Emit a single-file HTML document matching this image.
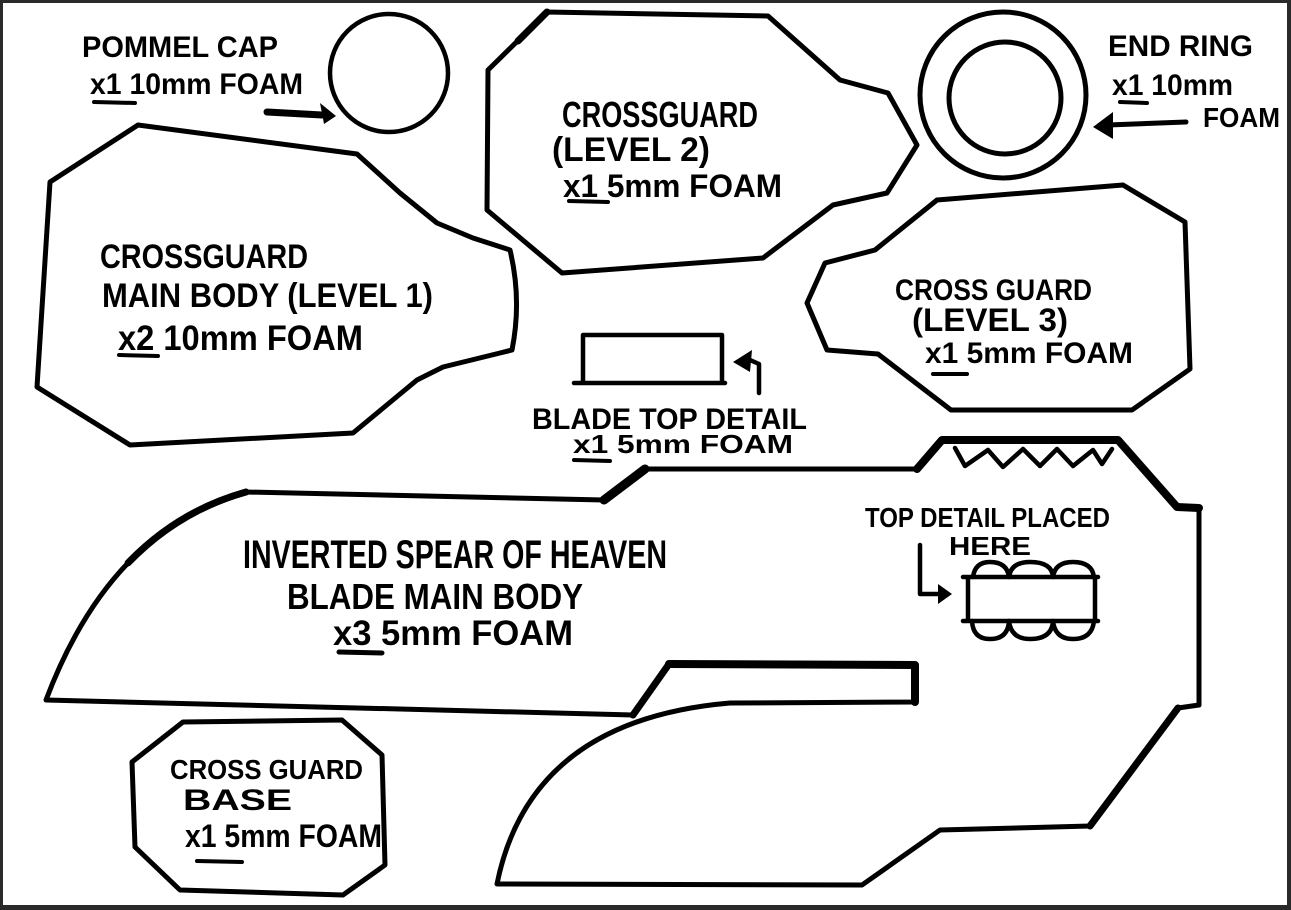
<!DOCTYPE html>
<html>
<head>
<meta charset="utf-8">
<style>
html,body{margin:0;padding:0;background:#fff;}
svg{display:block;}
text{font-family:"Liberation Sans",sans-serif;font-weight:bold;fill:#000;}
</style>
</head>
<body>
<svg width="1291" height="910" viewBox="0 0 1291 910" xmlns="http://www.w3.org/2000/svg">
<rect x="0" y="0" width="1291" height="910" fill="#fff"/>
<!-- frame -->
<rect x="1.5" y="1.5" width="1288" height="906" fill="none" stroke="#2a2a2a" stroke-width="3"/>
<rect x="0" y="905" width="1291" height="5" fill="#2a2a2a"/>
<rect x="1287" y="0" width="4" height="910" fill="#2a2a2a"/>

<g fill="none" stroke="#000" stroke-linejoin="round" stroke-linecap="round">
  <!-- Pommel cap circle -->
  <circle cx="389" cy="73" r="59" stroke-width="4.5"/>
  <!-- pommel arrow -->
  <path d="M267 112 L322 115" stroke-width="7"/>
  <!-- end ring -->
  <circle cx="1003" cy="95" r="83" stroke-width="5"/>
  <circle cx="1005" cy="98" r="56" stroke-width="5"/>
  <path d="M1186 122 L1108 125" stroke-width="5"/>

  <!-- Crossguard level 1 -->
  <path d="M138 125 L357 154 L400 193 L437 223 L473 238 L510 250 Q522 300 512 350 L500 353 L443 367 L417 380 L353 433 L130 445 L37 387 L50 182 Z" stroke-width="5"/>

  <!-- Crossguard level 2 -->
  <path d="M547 12 L768 16 L840 80 L888 93 L917 145 L887 193 L833 205 L763 258 L562 273 L487 210 L488 70 Z" stroke-width="5"/>
  <path d="M547 12 L518 41" stroke-width="7"/>

  <!-- Crossguard level 3 -->
  <path d="M937 200 L1123 185 L1185 222 L1190 369 L1132 410 L951 410 L878 354 L827 350 L807 303 L825 263 L875 250 Z" stroke-width="5"/>

  <!-- Blade top detail rect -->
  <path d="M583 383 L583 335 L722 335 L722 382 M574 383 L725 383" stroke-width="4.5"/>
  <path d="M759 393 L759 364 L750 360" stroke-width="4.5"/>

  <!-- Blade main body -->
  <path d="M246 492 L604 500 L645 469 L917 469 L942 440 L1118 440 L1177 507 L1199 508 L1199 705 L1178 708 L1090 826 L940 830 L862 885 L497 884 Q530 720 730 703 L915 702 L915 665 L669 664 L633 715 L46 700 Q110 530 246 492 Z" stroke-width="5"/>
  <!-- thick segments -->
  <path d="M604 500 L645 469" stroke-width="9"/>
  <path d="M917 469 L942 440 L1118 440 L1177 507 L1199 508" stroke-width="8"/>
  <path d="M669 664 L915 665 L915 702" stroke-width="8"/>
  <path d="M1178 708 L1090 826" stroke-width="7"/>
  <path d="M246 492 Q178 511 128 563" stroke-width="7"/>
  <path d="M633 715 L669 664" stroke-width="7"/>
  <!-- zigzag -->
  <path d="M955 448 L965 466 L988 450 L1003 467 L1023 449 L1040 466 L1057 449 L1073 466 L1093 450 L1102 464 L1112 449" stroke-width="4.5"/>

  <!-- top detail placed arrow -->
  <path d="M920 545 L920 594 L940 594" stroke-width="4.5"/>
  <!-- placed rect with scallops -->
  <path d="M968 577 L968 621 L1095 621 L1095 577 Z M963 577 L1098 577 M963 621 L1098 621" stroke-width="4.5"/>
  <path d="M973 577 Q975 562 990 562 Q1007 562 1009 577 Q1011 562 1030 562 Q1052 562 1053 577 Q1055 562 1073 562 Q1092 562 1094 577" stroke-width="4.5"/>
  <path d="M972 621 Q973 639 990 639 Q1008 639 1009 621 Q1011 639 1030 639 Q1052 639 1053 621 Q1055 639 1073 639 Q1092 639 1094 621" stroke-width="4.5"/>

  <!-- Crossguard base -->
  <path d="M183 722 L342 720 L382 755 L385 865 L343 895 L180 890 L135 847 L132 762 Z" stroke-width="5"/>

  <!-- underlines -->
  <path d="M94 102 L135 103" stroke-width="4"/>
  <path d="M119 355 L158 356" stroke-width="4"/>
  <path d="M569 201 L608 202" stroke-width="4"/>
  <path d="M1120 102 L1147 103" stroke-width="4"/>
  <path d="M933 374 L967 374" stroke-width="4"/>
  <path d="M574 460 L610 461" stroke-width="4"/>
  <path d="M339 652 L382 653" stroke-width="5"/>
  <path d="M197 861 L242 862" stroke-width="4"/>
</g>

<g fill="#000" stroke="none">
  <path d="M320 103 L336 116 L324 124 Z"/>
  <path d="M1093 127 L1113 112 L1113 139 Z"/>
  <path d="M733 362 L752 350 L750 372 Z"/>
  <path d="M952 594 L938 584 L938 604 Z"/>
</g>

<!-- Texts -->
<text x="82" y="57" font-size="30" textLength="196" lengthAdjust="spacingAndGlyphs">POMMEL CAP</text>
<text x="90" y="94" font-size="30" textLength="213" lengthAdjust="spacingAndGlyphs">x1 10mm FOAM</text>

<text x="100" y="268" font-size="34" textLength="208" lengthAdjust="spacingAndGlyphs">CROSSGUARD</text>
<text x="102" y="307" font-size="34" textLength="331" lengthAdjust="spacingAndGlyphs">MAIN BODY (LEVEL 1)</text>
<text x="118" y="350" font-size="35" textLength="245" lengthAdjust="spacingAndGlyphs">x2 10mm FOAM</text>

<text x="562" y="127" font-size="36" textLength="196" lengthAdjust="spacingAndGlyphs">CROSSGUARD</text>
<text x="552" y="161" font-size="34" textLength="158" lengthAdjust="spacingAndGlyphs">(LEVEL 2)</text>
<text x="563" y="197" font-size="32" textLength="219" lengthAdjust="spacingAndGlyphs">x1 5mm FOAM</text>

<text x="1108" y="56" font-size="30" textLength="145" lengthAdjust="spacingAndGlyphs">END RING</text>
<text x="1112" y="95" font-size="30" textLength="121" lengthAdjust="spacingAndGlyphs">x1 10mm</text>
<text x="1203" y="127" font-size="28" textLength="77" lengthAdjust="spacingAndGlyphs">FOAM</text>

<text x="895" y="300" font-size="30" textLength="197" lengthAdjust="spacingAndGlyphs">CROSS GUARD</text>
<text x="912" y="331" font-size="32" textLength="156" lengthAdjust="spacingAndGlyphs">(LEVEL 3)</text>
<text x="925" y="363" font-size="30" textLength="208" lengthAdjust="spacingAndGlyphs">x1 5mm FOAM</text>

<text x="532" y="429" font-size="30" textLength="275" lengthAdjust="spacingAndGlyphs">BLADE TOP DETAIL</text>
<text x="573" y="453" font-size="26" textLength="220" lengthAdjust="spacingAndGlyphs">x1 5mm FOAM</text>

<text x="243" y="568" font-size="40" textLength="424" lengthAdjust="spacingAndGlyphs">INVERTED SPEAR OF HEAVEN</text>
<text x="287" y="609" font-size="36" textLength="296" lengthAdjust="spacingAndGlyphs">BLADE MAIN BODY</text>
<text x="333" y="645" font-size="35" textLength="240" lengthAdjust="spacingAndGlyphs">x3 5mm FOAM</text>

<text x="865" y="527" font-size="28" textLength="245" lengthAdjust="spacingAndGlyphs">TOP DETAIL PLACED</text>
<text x="949" y="555" font-size="26" textLength="82" lengthAdjust="spacingAndGlyphs">HERE</text>

<text x="170" y="779" font-size="28" textLength="193" lengthAdjust="spacingAndGlyphs">CROSS GUARD</text>
<text x="183" y="810" font-size="30" textLength="109" lengthAdjust="spacingAndGlyphs">BASE</text>
<text x="185" y="847" font-size="32" textLength="197" lengthAdjust="spacingAndGlyphs">x1 5mm FOAM</text>
</svg>
</body>
</html>
